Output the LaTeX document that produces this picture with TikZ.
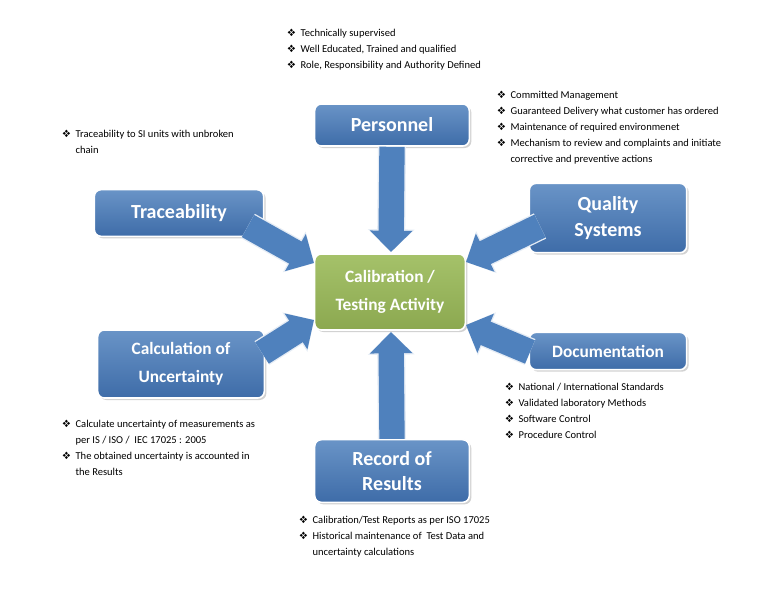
\documentclass[tikz,border=0pt]{standalone}
\usepackage{fontspec}
\setmainfont{Carlito}
\usepackage{pifont}
\usetikzlibrary{arrows.meta,shadows}
\definecolor{bx}{HTML}{4F81BD}
\definecolor{bxd}{HTML}{3E6CA8}
\definecolor{gr}{HTML}{9BBB59}
\newcommand{\bl}{\makebox[10pt][l]{\ding{118}}}
\newcommand{\ct}{\hspace*{10pt}}
\tikzset{
 box/.style={draw=white,line width=1.2pt,rounded corners=5pt,top color=bx!85!white,bottom color=bxd,text=white,font=\fontsize{15}{19}\selectfont\bfseries,align=center,drop shadow={opacity=0.35,shadow xshift=1.5pt,shadow yshift=-1.5pt}},
 cbox/.style={box,top color=gr!90!white,bottom color=gr!90!black,font=\fontsize{13}{21}\selectfont\bfseries},
 barrow/.style={line width=19pt,draw=bx,-{Triangle[width=31pt,length=16pt]},preaction={draw=white!85!bx,line width=21pt,-{Triangle[width=34pt,length=17pt]}}},
 note/.style={anchor=north west,align=left,inner sep=0pt,font=\fontsize{7.9}{12}\selectfont}
}
\begin{document}
\begin{tikzpicture}[x=0.75pt,y=-0.75pt]
\useasboundingbox[fill=white] (0,0) rectangle (768,594);
\node[cbox,minimum width=113pt,minimum height=57pt] (c) at (390,292) {Calibration /\\Testing Activity};
\node[box,minimum width=116pt,minimum height=31.5pt] (p) at (392,125) {Personnel};
\node[box,minimum width=118pt,minimum height=52pt] (q) at (608,218) {Quality\\Systems};
\node[box,minimum width=127pt,minimum height=35pt] (t) at (179,213) {Traceability};
\node[box,minimum width=118pt,minimum height=28pt,font=\fontsize{13}{17}\selectfont\bfseries] (d) at (608,351) {Documentation};
\node[box,minimum width=125pt,minimum height=51pt,font=\fontsize{13}{21}\selectfont\bfseries] (u) at (181,364) {Calculation of\\Uncertainty};
\node[box,minimum width=116pt,minimum height=47pt] (r) at (392,471) {Record of\\Results};
\coordinate (ct) at (391,252);
\coordinate (cb) at (391,332);
\coordinate (tA) at (248,226); \coordinate (tB) at (314,263);
\coordinate (qA) at (540,226); \coordinate (qB) at (466,262);
\coordinate (uA) at (262,353); \coordinate (uB) at (314,320);
\coordinate (dA) at (530,352); \coordinate (dB) at (466,325);
\draw[barrow] (p.south) -- (ct);
\draw[barrow] (r.north) -- (cb);
\draw[barrow] (tA) -- (tB);
\draw[barrow] (qA) -- (qB);
\draw[barrow] (uA) -- (uB);
\draw[barrow] (dA) -- (dB);
\node[note] (n1) at (287,29) {\bl Technically supervised\\\bl Well Educated, Trained and qualified\\\bl Role, Responsibility and Authority Defined};
\node[note] (n2) at (497,91) {\bl Committed Management\\\bl Guaranteed Delivery what customer has ordered\\\bl Maintenance of required environmenet\\\bl Mechanism to review and complaints and initiate\\\ct corrective and preventive actions};
\node[note] (n3) at (62,130) {\bl Traceability to SI units with unbroken\\\ct chain};
\node[note] (n4) at (505,383) {\bl National / International Standards\\\bl Validated laboratory Methods\\\bl Software Control\\\bl Procedure Control};
\node[note] (n5) at (62,420) {\bl Calculate uncertainty of measurements as\\\ct per IS / ISO /\ \ IEC 17025 : 2005\\\bl The obtained uncertainty is accounted in\\\ct the Results};
\node[note] (n6) at (299,516) {\bl Calibration/Test Reports as per ISO 17025\\\bl Historical maintenance of\ \ Test Data and\\\ct uncertainty calculations};
\end{tikzpicture}
\end{document}
